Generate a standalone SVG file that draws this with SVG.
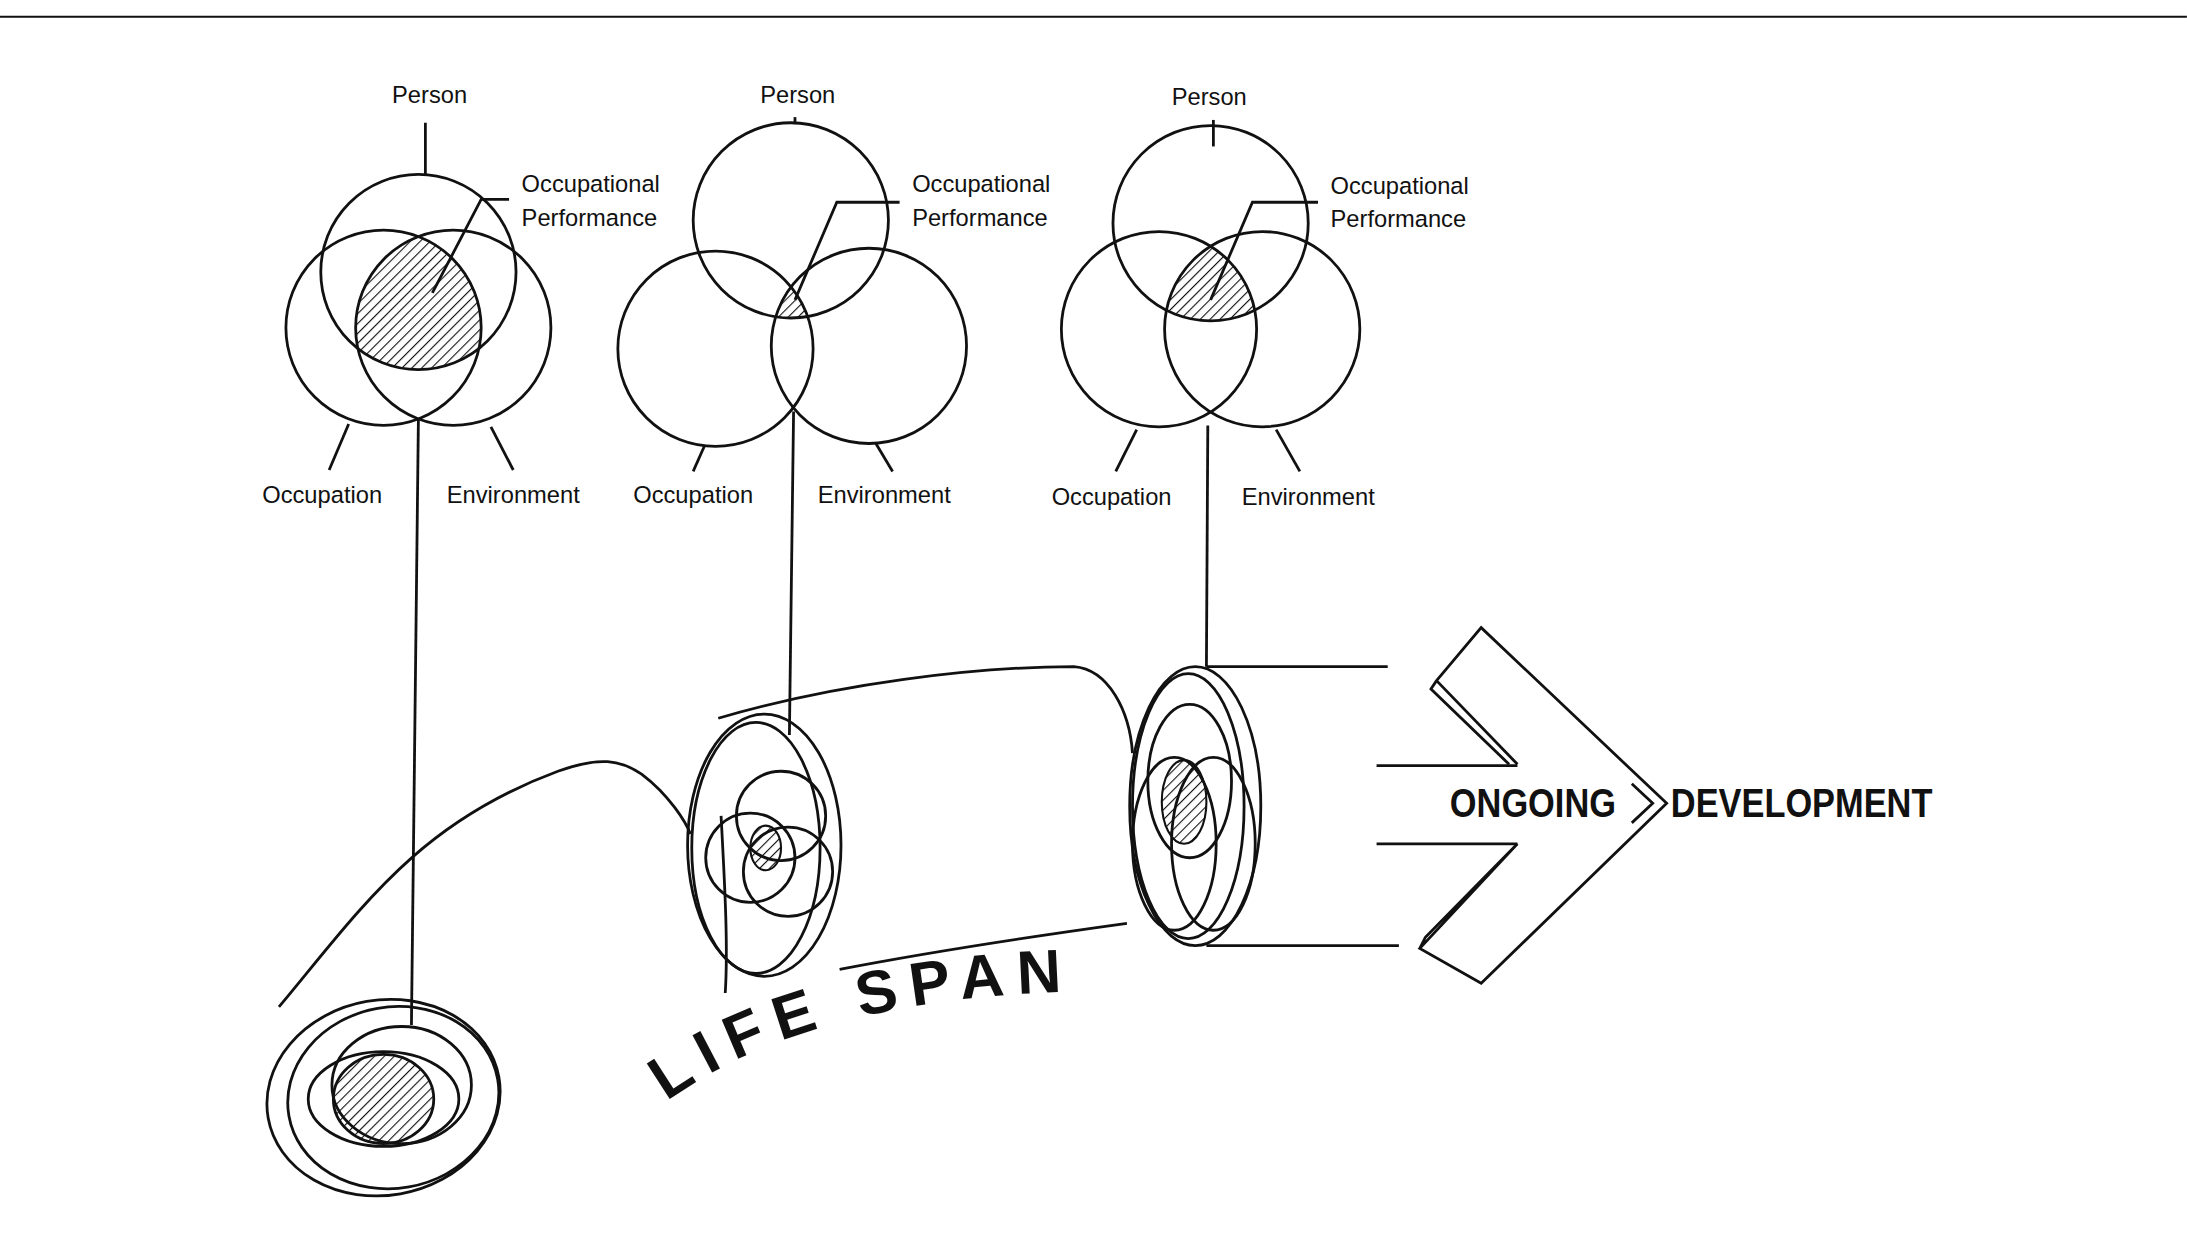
<svg xmlns="http://www.w3.org/2000/svg" width="2187" height="1244" viewBox="0 0 2187 1244">
<style>
.s{fill:none;stroke:#111;stroke-width:2}
.t{font-family:"Liberation Sans",Arial,sans-serif;font-size:17px;fill:#111}
.b{font-family:"Liberation Sans",Arial,sans-serif;font-weight:bold;font-size:29px;fill:#111}
</style>
<defs>
<pattern id="h" patternUnits="userSpaceOnUse" width="5" height="5" patternTransform="rotate(45)"><rect width="5" height="5" fill="#fff"/><line x1="0" y1="0" x2="0" y2="5" stroke="#111" stroke-width="1.6"/></pattern>
<clipPath id="a1"><circle cx="300" cy="195" r="70"/></clipPath>
<clipPath id="b1"><circle cx="275" cy="235" r="70"/></clipPath>
<clipPath id="a2"><circle cx="567" cy="158" r="70"/></clipPath>
<clipPath id="b2"><circle cx="513" cy="250" r="70"/></clipPath>
<clipPath id="a3"><circle cx="868" cy="160" r="70"/></clipPath>
<clipPath id="b3"><circle cx="831" cy="236" r="70"/></clipPath>
<path id="lp" d="M478,790 Q600,700 860,712"/>
</defs>
<rect width="2187" height="1244" fill="#fff"/>
<g transform="scale(1.3947)">
<line x1="0" y1="12" x2="1568" y2="12" stroke="#111" stroke-width="1.5"/>
<g id="venn1">
<g clip-path="url(#a1)"><circle cx="325" cy="235" r="70" fill="url(#h)" clip-path="url(#b1)"/></g>
<circle class="s" cx="300" cy="195" r="70"/><circle class="s" cx="275" cy="235" r="70"/><circle class="s" cx="325" cy="235" r="70"/>
<text class="t" x="308" y="74" text-anchor="middle">Person</text>
<line class="s" x1="305" y1="88" x2="305" y2="125" stroke-width="1.5"/>
<text class="t" x="374" y="138">Occupational</text><text class="t" x="374" y="162">Performance</text>
<polyline class="s" stroke-width="1.5" points="365,143 345,143 310,210"/>
<text class="t" x="231" y="361" text-anchor="middle">Occupation</text><text class="t" x="368" y="361" text-anchor="middle">Environment</text>
<line class="s" stroke-width="1.5" x1="250" y1="304" x2="236" y2="337"/><line class="s" stroke-width="1.5" x1="352" y1="306" x2="368" y2="337"/>
</g>
<g id="venn2">
<g clip-path="url(#a2)"><circle cx="623" cy="248" r="70" fill="url(#h)" clip-path="url(#b2)"/></g>
<circle class="s" cx="567" cy="158" r="70"/><circle class="s" cx="513" cy="250" r="70"/><circle class="s" cx="623" cy="248" r="70"/>
<text class="t" x="572" y="74" text-anchor="middle">Person</text>
<line class="s" stroke-width="1.5" x1="570" y1="84" x2="570" y2="89"/>
<text class="t" x="654" y="138">Occupational</text><text class="t" x="654" y="162">Performance</text>
<polyline class="s" stroke-width="1.5" points="645,145 600,145 570,215"/>
<text class="t" x="497" y="361" text-anchor="middle">Occupation</text><text class="t" x="634" y="361" text-anchor="middle">Environment</text>
<line class="s" stroke-width="1.5" x1="505" y1="320" x2="497" y2="338"/><line class="s" stroke-width="1.5" x1="628" y1="318" x2="640" y2="338"/>
</g>
<g id="venn3">
<g clip-path="url(#a3)"><circle cx="905" cy="236" r="70" fill="url(#h)" clip-path="url(#b3)"/></g>
<circle class="s" cx="868" cy="160" r="70"/><circle class="s" cx="831" cy="236" r="70"/><circle class="s" cx="905" cy="236" r="70"/>
<text class="t" x="867" y="75" text-anchor="middle">Person</text>
<line class="s" stroke-width="1.5" x1="870" y1="86" x2="870" y2="105"/>
<text class="t" x="954" y="139">Occupational</text><text class="t" x="954" y="163">Performance</text>
<polyline class="s" stroke-width="1.5" points="945,145 898,145 868,215"/>
<text class="t" x="797" y="362" text-anchor="middle">Occupation</text><text class="t" x="938" y="362" text-anchor="middle">Environment</text>
<line class="s" stroke-width="1.5" x1="815" y1="308" x2="800" y2="338"/><line class="s" stroke-width="1.5" x1="915" y1="308" x2="932" y2="338"/>
</g>
<g id="connectors" class="s" stroke-width="1.5">
<line x1="300" y1="300" x2="295" y2="735"/>
<line x1="569" y1="295" x2="566" y2="527"/>
<line x1="866" y1="305" x2="865" y2="478"/>
</g>
<g id="tube">
<path class="s" d="M200,722 C260,650 300,590 400,553 C430,542 445,545 460,555 C480,570 492,590 495,598"/>
<path class="s" d="M517,585 C520,640 522,680 520,712"/>
<ellipse class="s" cx="275" cy="787" rx="84" ry="70" transform="rotate(-10 275 787)"/>
<ellipse class="s" cx="282" cy="787" rx="76" ry="65" transform="rotate(-10 282 787)"/>
<ellipse cx="275" cy="788" rx="36" ry="32" fill="url(#h)" stroke="#111" stroke-width="2"/>
<ellipse class="s" cx="275" cy="788" rx="54" ry="34" stroke-width="1.5"/>
<ellipse class="s" cx="288" cy="778" rx="50" ry="42" stroke-width="1.5"/>
<path class="s" d="M515,515 C600,490 700,478 770,478 C795,480 810,510 812,540"/>
<path class="s" d="M602,695 C680,680 750,670 808,662"/>
<ellipse class="s" cx="548" cy="606" rx="55" ry="94"/>
<ellipse class="s" cx="542" cy="608" rx="46" ry="90"/>
<ellipse cx="549" cy="608" rx="11" ry="16" fill="url(#h)" stroke="#111" stroke-width="1.5"/>
<circle class="s" cx="560" cy="585" r="32" stroke-width="1.5"/>
<circle class="s" cx="538" cy="615" r="32" stroke-width="1.5"/>
<circle class="s" cx="565" cy="625" r="32" stroke-width="1.5"/>
<ellipse class="s" cx="857" cy="578" rx="47" ry="100"/>
<ellipse class="s" cx="852" cy="578" rx="40" ry="95"/>
<ellipse cx="849" cy="575" rx="16" ry="30" fill="url(#h)" stroke="#111" stroke-width="1.5"/>
<ellipse class="s" cx="853" cy="560" rx="30" ry="55" stroke-width="1.5"/>
<ellipse class="s" cx="842" cy="605" rx="30" ry="62" stroke-width="1.5"/>
<ellipse class="s" cx="870" cy="605" rx="30" ry="62" stroke-width="1.5"/>
<line class="s" stroke-width="1.5" x1="865" y1="478" x2="995" y2="478"/>
<line class="s" stroke-width="1.5" x1="865" y1="678" x2="1003" y2="678"/>
<text class="b" style="font-size:44px;letter-spacing:9px"><textPath href="#lp">LIFE SPAN</textPath></text>
</g>
<g id="arrow">
<path class="s" d="M1030,488 L1062,450 L1195,576 L1062,705 L1018,680 L1088,605 M1088,548 L1030,488 M1030,488 L1026,494 L1082,548 M1018,680 L1022,672 L1088,605"/>
<line class="s" stroke-width="1.5" x1="987" y1="549" x2="1088" y2="549"/>
<line class="s" stroke-width="1.5" x1="987" y1="605" x2="1088" y2="605"/>
<polyline class="s" stroke-width="1.5" points="1170,562 1185,576 1170,590"/>
<text class="b" x="1040" y="586" transform="scale(0.85 1) translate(183 0)">ONGOING</text>
<text class="b" x="1198" y="586" transform="translate(1198 0) scale(0.85 1) translate(-1198 0)">DEVELOPMENT</text>
</g>
</g>
</svg>
